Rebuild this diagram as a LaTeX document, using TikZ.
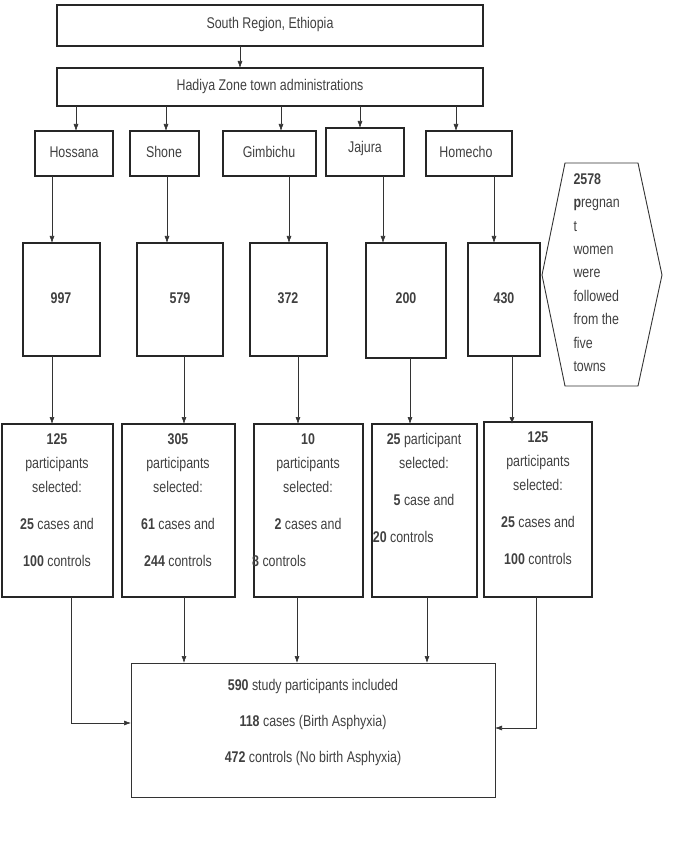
\documentclass[tikz,border=0pt]{standalone}
\usepackage{fontspec}
\setmainfont{Liberation Sans}[FakeStretch=0.8]
\usetikzlibrary{arrows.meta}
\begin{document}
\begin{tikzpicture}[x=1pt,y=-1pt,
  box/.style={draw=black!85,line width=1.4pt},
  txt/.style={text=black!75,font=\fontsize{15.5}{18}\selectfont,align=center},
  bnum/.style={txt,font=\bfseries\fontsize{15.5}{18}\selectfont},
  arr/.style={draw=black!80,line width=0.6pt,-{Latex[length=7pt,width=5pt]}}]
\useasboundingbox (0,0) rectangle (685,866);
% top
\draw[box] (57,5) rectangle (483,46);
\node[txt] (south) at (270,24) {South Region, Ethiopia};
\draw[box] (57,68) rectangle (483,106);
\node[txt] (hadiya) at (270,86) {Hadiya Zone town administrations};
\draw[arr] (240,46) -- (240,68);
% towns
\draw[box] (35,131) rectangle (113,176); \node[txt] (t1) at (74,152) {Hossana};
\draw[box] (130,131) rectangle (199,176); \node[txt] (t2) at (164,152) {Shone};
\draw[box] (223,131) rectangle (316,176); \node[txt] (t3) at (269,152) {Gimbichu};
\draw[box] (326,128) rectangle (404,176); \node[txt] (t4) at (365,148) {Jajura};
\draw[box] (426,131) rectangle (512,176); \node[txt] (t5) at (466,152) {Homecho};
\foreach \x/\y in {76/131,166/131,281/131,360/128,456/131} \draw[arr] (\x,106) -- (\x,\y);
% numbers
\draw[box] (23,243) rectangle (100,356); \node[bnum] (n1) at (61,298) {997};
\draw[box] (137,243) rectangle (223,356); \node[bnum] (n2) at (180,298) {579};
\draw[box] (250,243) rectangle (327,356); \node[bnum] (n3) at (288,298) {372};
\draw[box] (366,243) rectangle (446,358); \node[bnum] (n4) at (406,298) {200};
\draw[box] (468,243) rectangle (540,356); \node[bnum] (n5) at (504,298) {430};
\foreach \x in {52,167,289,383,494} \draw[arr] (\x,176) -- (\x,243);
% hexagon
\draw[draw=black!80,line width=0.9pt] (565,163) -- (638,163) -- (662,275) -- (638,386) -- (565,386) -- (542,275) -- cycle;
\node[txt,align=left,font=\fontsize{15.5}{23.4}\selectfont,anchor=north west] (hex) at (570,170) {\textbf{2578}\\\textbf{p}regnan\\t\\women\\were\\followed\\from the\\five\\towns};
% selection boxes
\tikzset{sel/.style={txt,font=\fontsize{15.5}{24}\selectfont}}
\draw[box] (2,424) rectangle (113,597);
\node[sel,anchor=north] (s1) at (57,430) {\textbf{125}\\participants\\selected:\\[13pt]\textbf{25} cases and\\[13pt]\textbf{100} controls};
\draw[box] (122,424) rectangle (235,597);
\node[sel,anchor=north] (s2) at (178,430) {\textbf{305}\\participants\\selected:\\[13pt]\textbf{61} cases and\\[13pt]\textbf{244} controls};
\draw[box] (254,424) rectangle (363,597);
\node[sel,anchor=north] (s3) at (308,430) {\textbf{10}\\participants\\selected:\\[13pt]\textbf{2} cases and\\[13pt]\makebox[7.2em][l]{\textbf{8} controls}};
\draw[box] (372,424) rectangle (477,597);
\node[sel,anchor=north] (s4) at (424,430) {\textbf{25} participant\\selected:\\[13pt]\textbf{5} case and\\[13pt]\makebox[6.6em][l]{\textbf{20} controls}};
\draw[box] (484,422) rectangle (592,597);
\node[sel,anchor=north] (s5) at (538,428) {\textbf{125}\\participants\\selected:\\[13pt]\textbf{25} cases and\\[13pt]\textbf{100} controls};
\foreach \x/\a in {52/356,184/356,298/356,410/358,512/356} \draw[arr] (\x,\a) -- (\x,424);
% bottom box
\draw[draw=black!80,line width=1pt] (131,663) rectangle (495,797);
\node[txt,font=\fontsize{15.5}{36}\selectfont] (fin) at (313,722) {\textbf{590} study participants included\\\textbf{118} cases (Birth Asphyxia)\\\textbf{472} controls (No birth Asphyxia)};
\foreach \x in {184,297,427} \draw[arr] (\x,597) -- (\x,663);
\draw[arr] (71,597) -- (71,723) -- (131,723);
\draw[arr] (536,597) -- (536,728) -- (495,728);
\end{tikzpicture}
\end{document}
